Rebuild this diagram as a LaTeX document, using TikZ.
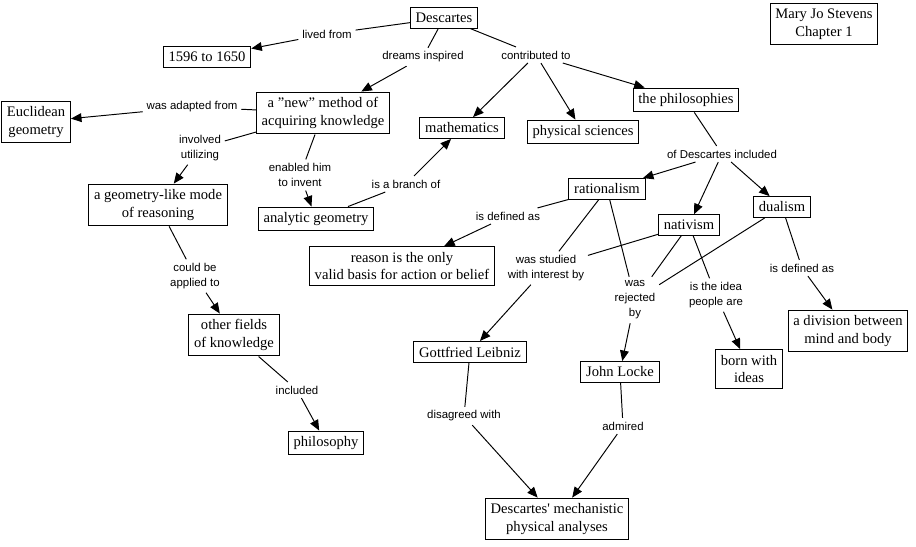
\documentclass[tikz,border=0pt]{standalone}
\usepackage{fontspec}
\setmainfont{Liberation Serif}
\setsansfont{Liberation Sans}
\usetikzlibrary{arrows.meta}
\tikzset{
  concept/.style={draw, line width=0.6pt, fill=white, align=center, inner sep=3pt,
    font=\fontsize{8.3}{10.2}\selectfont},
  link/.style={align=center, inner sep=2pt,
    font=\sffamily\fontsize{6.5}{8.6}\selectfont},
  rel/.style={line width=0.55pt},
  arr/.style={rel, -{Triangle[length=6pt,width=5pt]}}
}
\begin{document}
\begin{tikzpicture}[x=0.02cm,y=-0.02cm]
  \useasboundingbox (0,0) rectangle (916,547);
  % concepts
  \node[concept] (desc) at (444,18) {Descartes};
  \node[concept] (mary) at (824,24) {Mary Jo Stevens\\Chapter 1};
  \node[concept] (years) at (207,57) {1596 to 1650};
  \node[concept] (method) at (323,113) {a {\char34}new{\char34} method of\\acquiring knowledge};
  \node[concept] (euclid) at (36,122) {Euclidean\\geometry};
  \node[concept] (math) at (462,128) {mathematics};
  \node[concept] (phys) at (583,132) {physical sciences};
  \node[concept] (philos) at (686,100) {the philosophies};
  \node[concept] (mode) at (158,205) {a geometry-like mode\\of reasoning};
  \node[concept] (analytic) at (316,219) {analytic geometry};
  \node[concept] (ration) at (607,189) {rationalism};
  \node[concept] (nativ) at (689,225) {nativism};
  \node[concept] (dual) at (782,207) {dualism};
  \node[concept] (reason) at (402,266) {reason is the only\\valid basis for action or belief};
  \node[concept] (division) at (848,331) {a division between\\mind and body};
  \node[concept] (fields) at (234,335) {other fields\\of knowledge};
  \node[concept] (leibniz) at (470,352) {Gottfried Leibniz};
  \node[concept] (locke) at (620,372) {John Locke};
  \node[concept] (born) at (749,369) {born with\\ideas};
  \node[concept] (philo) at (326,443) {philosophy};
  \node[concept] (mech) at (557,519) {Descartes\textquotesingle\ mechanistic\\physical analyses};
  % linking phrases
  \node[link] (l1) at (327,34) {lived from};
  \node[link] (l2) at (423,57) {dreams inspired};
  \node[link] (l3) at (536,55) {contributed to};
  \node[link] (l4) at (192,107) {was adapted from};
  \node[link] (l5) at (200,148) {involved\\utilizing};
  \node[link] (l6) at (300,175) {enabled him\\to invent};
  \node[link] (l7) at (406,184) {is a branch of};
  \node[link] (l8) at (722,154) {of Descartes included};
  \node[link] (l9) at (508,216) {is defined as};
  \node[link] (l10) at (546,268) {was studied\\with interest by};
  \node[link] (l11) at (635,300) {was\\rejected\\by};
  \node[link] (l12) at (716,295) {is the idea\\people are};
  \node[link] (l13) at (802,268) {is defined as};
  \node[link] (l14) at (195,276) {could be\\applied to};
  \node[link] (l15) at (297,390) {included};
  \node[link] (l16) at (464,416) {disagreed with};
  \node[link] (l17) at (623,426) {admired};
  % connectors
  \draw[rel] (desc) -- (l1);  \draw[arr] (l1) -- (years);
  \draw[rel] (desc) -- (l2);  \draw[arr] (l2) -- (method);
  \draw[rel] (desc) -- (l3);
  \foreach \t in {math,phys,philos} \draw[arr] (l3) -- (\t);
  \draw[rel] (method) -- (l4); \draw[arr] (l4) -- (euclid);
  \draw[rel] (method) -- (l5); \draw[arr] (l5) -- (mode);
  \draw[rel] (method) -- (l6); \draw[arr] (l6) -- (analytic);
  \draw[rel] (analytic) -- (l7); \draw[arr] (l7) -- (math);
  \draw[rel] (philos) -- (l8);
  \foreach \t in {ration,nativ,dual} \draw[arr] (l8) -- (\t);
  \draw[rel] (ration) -- (l9); \draw[arr] (l9) -- (reason);
  \foreach \s in {ration,nativ} \draw[rel] (\s) -- (l10);
  \draw[arr] (l10) -- (leibniz);
  \foreach \s in {ration,nativ,dual} \draw[rel] (\s) -- (l11);
  \draw[arr] (l11) -- (locke);
  \draw[rel] (nativ) -- (l12); \draw[arr] (l12) -- (born);
  \draw[rel] (dual) -- (l13); \draw[arr] (l13) -- (division);
  \draw[rel] (mode) -- (l14); \draw[arr] (l14) -- (fields);
  \draw[rel] (fields) -- (l15); \draw[arr] (l15) -- (philo);
  \draw[rel] (leibniz) -- (l16); \draw[arr] (l16) -- (mech);
  \draw[rel] (locke) -- (l17); \draw[arr] (l17) -- (mech);
\end{tikzpicture}
\end{document}
